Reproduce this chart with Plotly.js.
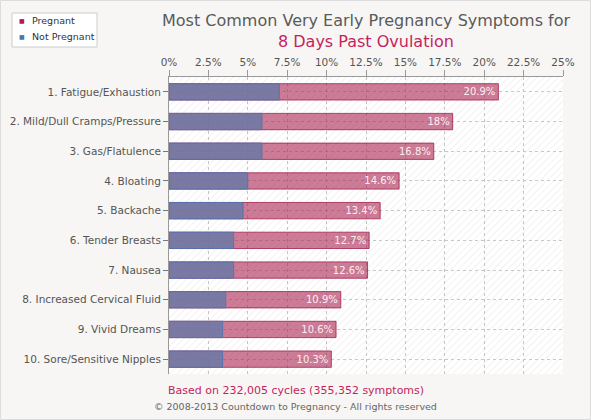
<!DOCTYPE html>
<html>
<head>
<meta charset="utf-8">
<script src="https://cdn.plot.ly/plotly-3.0.1.min.js"></script>
<style>
html,body{margin:0;padding:0;background:#f7f6f4;}
#chart{width:591px;height:420px;}
</style>
</head>
<body>
<div id="chart"></div>
<script>
var categories = [
  "1. Fatigue/Exhaustion",
  "2. Mild/Dull Cramps/Pressure",
  "3. Gas/Flatulence",
  "4. Bloating",
  "5. Backache",
  "6. Tender Breasts",
  "7. Nausea",
  "8. Increased Cervical Fluid",
  "9. Vivid Dreams",
  "10. Sore/Sensitive Nipples"
];
var pregnantValues = [20.9, 18, 16.8, 14.6, 13.4, 12.7, 12.6, 10.9, 10.6, 10.3];
var notPregnantValues = [7.0, 5.9, 5.9, 5.0, 4.7, 4.1, 4.1, 3.6, 3.4, 3.4];
var xTickValues = [0, 2.5, 5, 7.5, 10, 12.5, 15, 17.5, 20, 22.5, 25];
var xTickLabels = xTickValues.map(function(v){ return v + "%"; });
var seriesNames = ["Pregnant", "Not Pregnant"];
var seriesLegendColors = ["#b8164e", "#4f76aa"];

var font = "DejaVu Sans, Verdana, sans-serif";
var L = 169, R = 28, T = 77, B = 46, W = 591, H = 420;
var pw = W - L - R, ph = H - T - B;
function px(x){ return (x - L) / pw; }
function py(y){ return (H - B - y) / ph; }

var hatch = '<svg xmlns="http://www.w3.org/2000/svg" width="' + pw + '" height="' + ph + '" viewBox="0 0 ' + pw + ' ' + ph + '" preserveAspectRatio="none">' +
  '<defs><pattern id="h" width="5" height="5" patternUnits="userSpaceOnUse" patternTransform="rotate(45)">' +
  '<line x1="0" y1="0" x2="0" y2="5" stroke="#e9e9e9" stroke-width="1.2"/></pattern></defs>' +
  '<rect width="100%" height="100%" fill="#ffffff"/><rect width="100%" height="100%" fill="url(#h)"/></svg>';
var hatchUri = "data:image/svg+xml;charset=utf-8," + encodeURIComponent(hatch);

var traces = [
  {
    type: "bar", orientation: "h", name: seriesNames[0],
    y: categories, x: pregnantValues,
    width: 0.55,
    marker: {color: "rgba(170,37,82,0.6)", line: {color: "rgba(160,20,70,0.75)", width: 1}},
    text: pregnantValues.map(function(v){ return v + "%"; }),
    textposition: "inside", insidetextanchor: "end", textangle: 0,
    constraintext: "none", cliponaxis: false,
    textfont: {family: font, size: 10, color: "#fbeef2"},
    showlegend: false, hoverinfo: "x+y"
  },
  {
    type: "bar", orientation: "h", name: seriesNames[1],
    y: categories, x: notPregnantValues,
    width: 0.55,
    marker: {color: "rgba(104,121,166,0.82)", line: {color: "rgba(80,115,180,0.9)", width: 1}},
    showlegend: false, hoverinfo: "x+y"
  }
];

var annotations = [
  {
    text: "Most Common Very Early Pregnancy Symptoms for",
    xref: "paper", yref: "paper", x: px(366), y: py(20),
    xanchor: "center", yanchor: "middle", showarrow: false,
    font: {family: font, size: 16, color: "#5a5a5a"}
  },
  {
    text: "8 Days Past Ovulation",
    xref: "paper", yref: "paper", x: px(366), y: py(42),
    xanchor: "center", yanchor: "middle", showarrow: false,
    font: {family: font, size: 16, color: "#c51f5d"}
  },
  {
    text: "Based on 232,005 cycles (355,352 symptoms)",
    xref: "paper", yref: "paper", x: px(295.5), y: py(390),
    xanchor: "center", yanchor: "middle", showarrow: false,
    font: {family: font, size: 11, color: "#c51f5d"}
  },
  {
    text: "© 2008-2013 Countdown to Pregnancy - All rights reserved",
    xref: "paper", yref: "paper", x: px(295.5), y: py(406),
    xanchor: "center", yanchor: "middle", showarrow: false,
    font: {family: font, size: 9.5, color: "#666"}
  }
];
seriesNames.forEach(function(name, i){
  var yy = 21 + i * 15;
  annotations.push({
    text: "■", xref: "paper", yref: "paper", x: px(22), y: py(yy),
    xanchor: "center", yanchor: "middle", showarrow: false,
    font: {family: font, size: 6, color: seriesLegendColors[i]}
  });
  annotations.push({
    text: name, xref: "paper", yref: "paper", x: px(30), y: py(yy),
    xanchor: "left", yanchor: "middle", showarrow: false,
    font: {family: font, size: 9.5, color: "#333"}
  });
});

var layout = {
  width: W, height: H,
  margin: {l: L, r: R, t: T, b: B, pad: 0},
  paper_bgcolor: "#f7f6f4",
  plot_bgcolor: "#ffffff",
  font: {family: font, size: 10.5, color: "#555"},
  barmode: "overlay",
  showlegend: false,
  xaxis: {
    side: "top", range: [0, 25], tickvals: xTickValues, ticktext: xTickLabels,
    showgrid: true, gridcolor: "#c4c4c4", griddash: "3px,3px", gridwidth: 1,
    zeroline: false,
    showline: true, linecolor: "#999", linewidth: 1,
    ticks: "outside", ticklen: 6, tickcolor: "#999",
    tickfont: {family: font, size: 10.5, color: "#555"},
    fixedrange: true
  },
  yaxis: {
    type: "category", autorange: "reversed",
    showgrid: true, gridcolor: "#c8c8c8", griddash: "3px,3px", gridwidth: 1,
    showline: true, linecolor: "#999", linewidth: 1,
    ticks: "outside", ticklen: 5, tickcolor: "#777",
    tickfont: {family: font, size: 10.5, color: "#555"},
    fixedrange: true
  },
  images: [{
    source: hatchUri, xref: "paper", yref: "paper",
    x: 0, y: 1, sizex: 1, sizey: 1, sizing: "stretch",
    xanchor: "left", yanchor: "top", layer: "below"
  }],
  annotations: annotations,
  shapes: [
    {
      type: "rect", xref: "paper", yref: "paper",
      x0: px(0.5), x1: px(590.5), y0: py(419.5), y1: py(0.5),
      line: {color: "#dcdcdc", width: 1}, layer: "below"
    },
    {
      type: "rect", xref: "paper", yref: "paper",
      x0: px(12), x1: px(97), y0: py(47), y1: py(13),
      line: {color: "#cccccc", width: 1}, fillcolor: "#ffffff", layer: "below"
    }
  ],
  hovermode: false
};

Plotly.newPlot("chart", traces, layout, {displayModeBar: false, staticPlot: true});
</script>
</body>
</html>
